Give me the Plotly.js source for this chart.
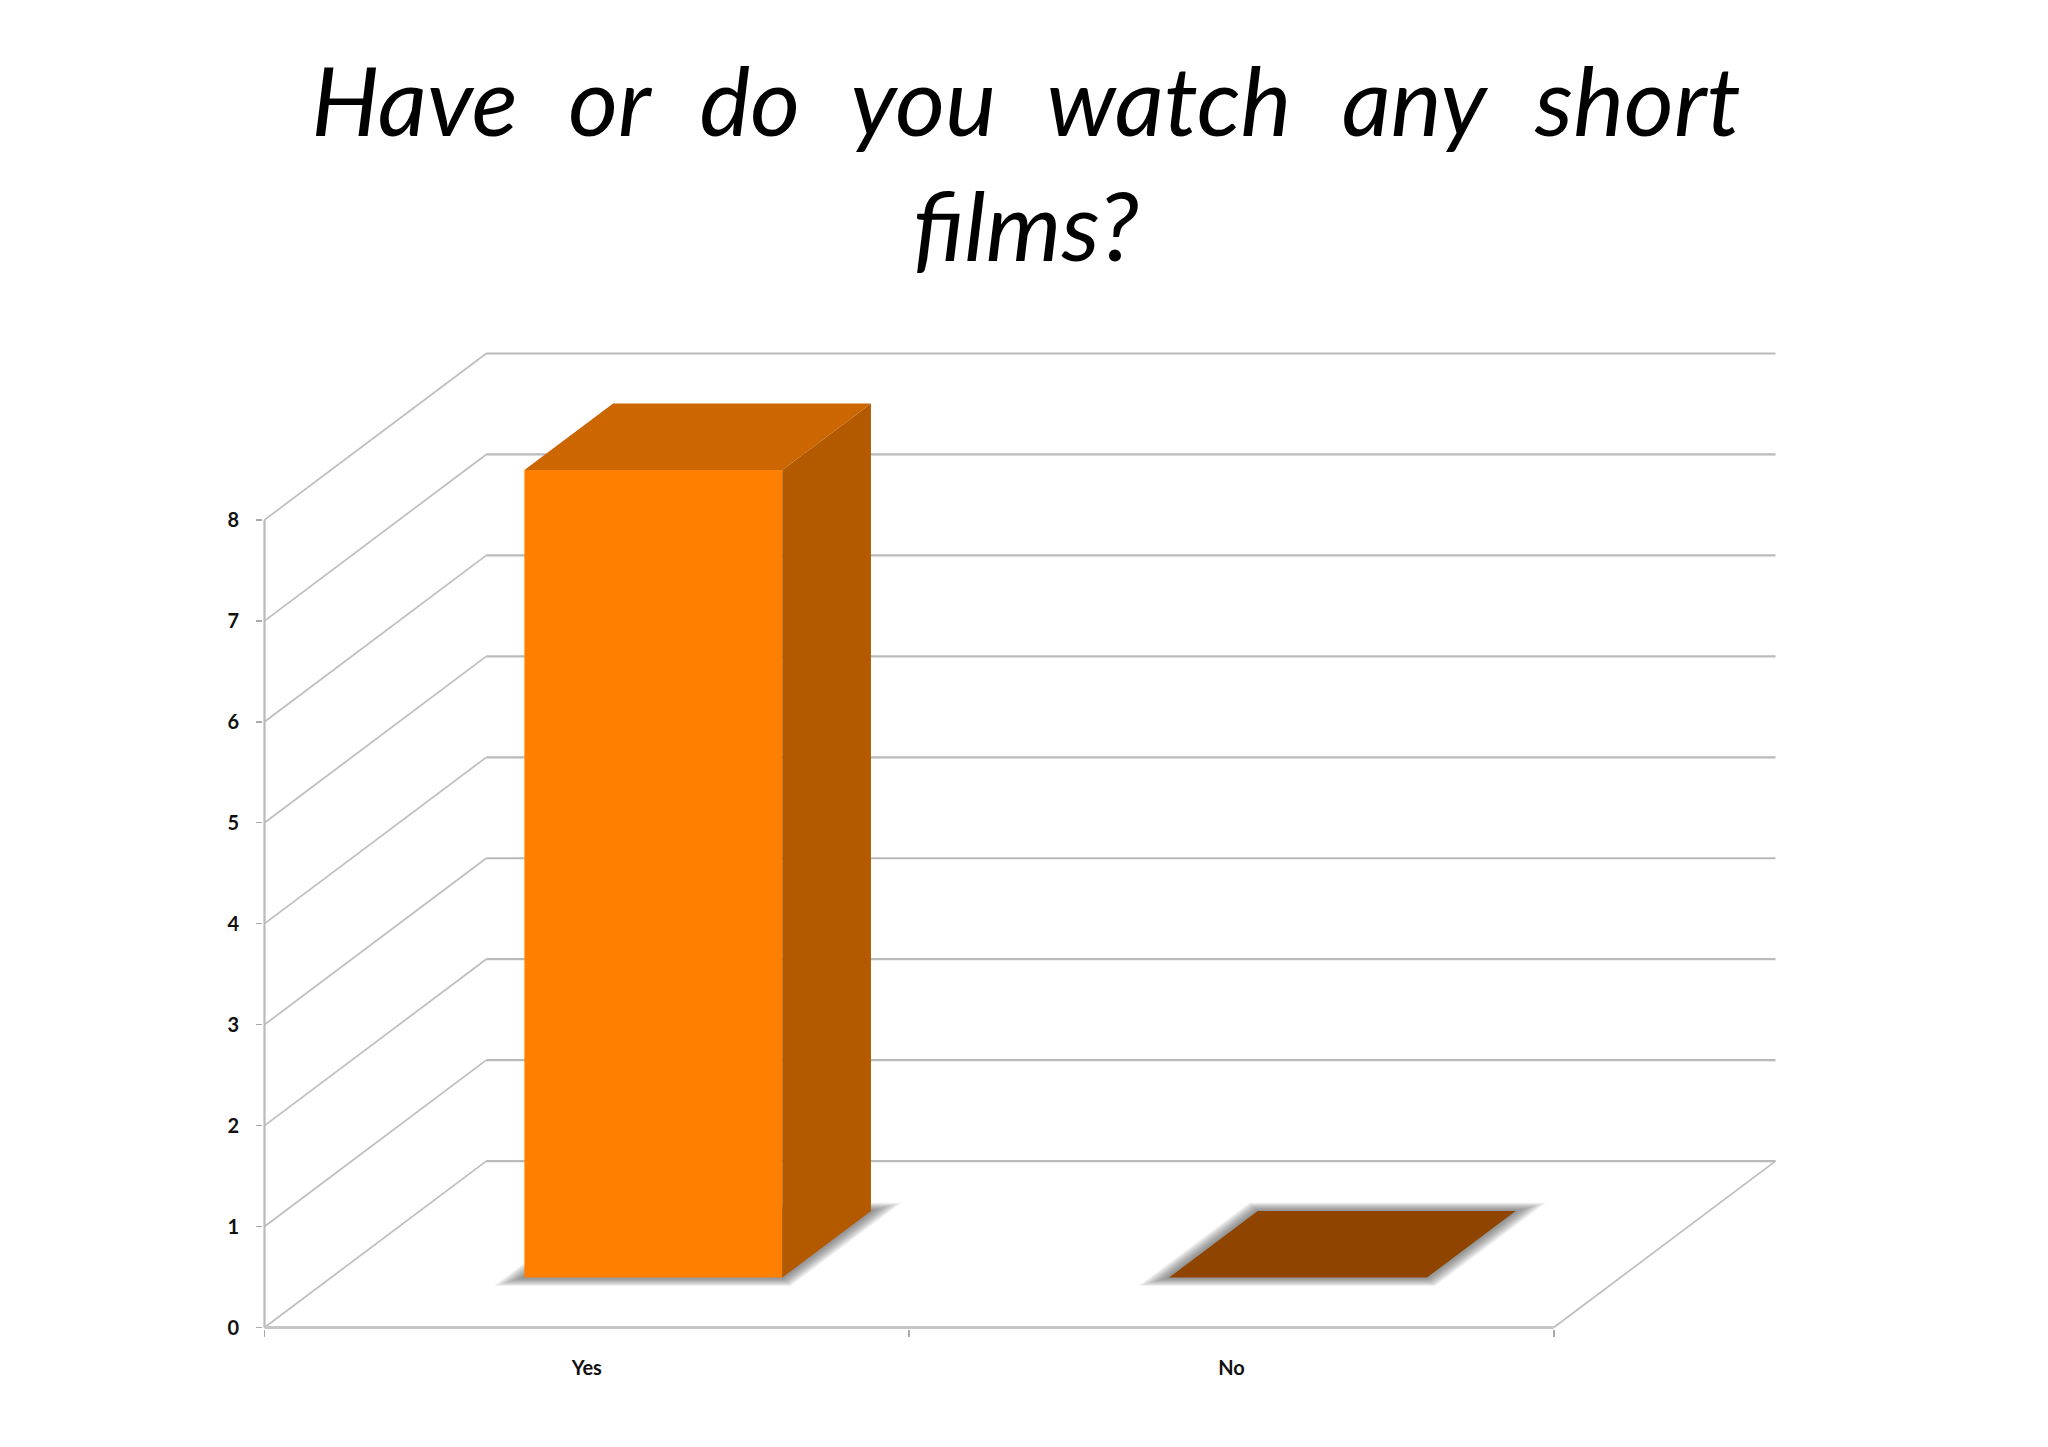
<!DOCTYPE html>
<html>
<head>
<meta charset="utf-8">
<script src="https://cdn.plot.ly/plotly-3.0.1.min.js"></script>
<style>html,body{margin:0;padding:0;background:#fff}</style>
</head>
<body>
<div id="chart" style="width:2048px;height:1447px"></div>
<script>
const categories = ['Yes', 'No'];
const values = [8, 0];
const valueTicks = [0, 1, 2, 3, 4, 5, 6, 7, 8];
const categoryEdges = [0, 1, 2];
const categoryCentres = [0.5, 1.5];
const gap = '\u00A0\u00A0\u200A';
const titleLines = ['Have', 'or', 'do', 'you', 'watch', 'any', 'short'].join(gap) + '<br>films?';
const frontColors = ['#FF8000', '#FF8000'];
const sideColors = ['#B35A00', '#B35A00'];
const topColors = ['#CC6600', '#8F4400'];

// oblique projection of the pseudo-3D chart
const depthX = 0.344, depthY = 1.648;
const barHalf = 0.2, depthNear = 0.3, depthFar = 0.7;
const unitX = 644.7, unitY = 101.05, originX = 264.4, originY = 1328;
const padX = 1.5, padY = 1.5;
const px = (c, d) => c + d * depthX;
const py = (v, d) => v + d * depthY;

const shapes = [];
const gridStyle = { color: '#BABABA', width: 2.2 };
const diagStyle = { color: '#BEBEBE', width: 1.7 };
function seg(x0, y0, x1, y1, line) {
  shapes.push({ type: 'line', layer: 'below', xref: 'x', yref: 'y', x0, y0, x1, y1, line });
}
valueTicks.forEach(v => {
  seg(px(0, 0), py(v, 0), px(0, 1), py(v, 1), diagStyle);
  seg(px(0, 1), py(v, 1), px(2, 1), py(v, 1), gridStyle);
});
seg(px(2, 0), py(0, 0), px(2, 1), py(0, 1), diagStyle);
seg(0, 0, 0, 8, gridStyle);
seg(0, 0, 2, 0, { color: '#C6C6C6', width: 2.8 });

function poly(pts) {
  return 'M' + pts.map(p => p[0] + ',' + p[1]).join('L') + 'Z';
}
// soft contact shadow of each bar, stacked translucent footprints
const spreads = [1, 0.9, 0.8, 0.7, 0.6, 0.5, 0.4, 0.3, 0.2, 0.1];
categoryCentres.forEach(cc => {
  spreads.forEach(s => {
    const e = 0.03 * s, f = 0.05 * s;
    const c0 = cc - barHalf - e, c1 = cc + barHalf + e, d0 = depthNear - f, d1 = depthFar + f;
    shapes.push({
      type: 'path', layer: 'below', xref: 'x', yref: 'y', line: { width: 0 },
      fillcolor: 'rgba(90,90,90,0.09)',
      path: poly([[px(c0, d0), py(0, d0)], [px(c1, d0), py(0, d0)], [px(c1, d1), py(0, d1)], [px(c0, d1), py(0, d1)]])
    });
  });
});

const traces = [];
traces.push({
  type: 'bar', x: categoryCentres.map(c => px(c, depthNear)), y: values,
  base: values.map(() => py(0, depthNear)), width: barHalf * 2,
  marker: { color: frontColors, line: { width: 0 } }, hoverinfo: 'skip', showlegend: false
});
categories.forEach((name, i) => {
  const c0 = categoryCentres[i] - barHalf, c1 = categoryCentres[i] + barHalf, v = values[i];
  traces.push({
    type: 'scatter', mode: 'lines', name: name + ' side', fill: 'toself', fillcolor: sideColors[i],
    line: { width: 0 }, hoverinfo: 'skip', showlegend: false,
    x: [px(c1, depthNear), px(c1, depthFar), px(c1, depthFar), px(c1, depthNear), px(c1, depthNear)],
    y: [py(0, depthNear), py(0, depthFar), py(v, depthFar), py(v, depthNear), py(0, depthNear)]
  });
  traces.push({
    type: 'scatter', mode: 'lines', name: name + ' top', fill: 'toself', fillcolor: topColors[i],
    line: { width: 0 }, hoverinfo: 'skip', showlegend: false,
    x: [px(c0, depthNear), px(c1, depthNear), px(c1, depthFar), px(c0, depthFar), px(c0, depthNear)],
    y: [py(v, depthNear), py(v, depthNear), py(v, depthFar), py(v, depthFar), py(v, depthNear)]
  });
});

const xMax = 2 + depthX, yMax = 8 + depthY;
const layout = {
  width: 2048, height: 1447, showlegend: false,
  paper_bgcolor: '#fff', plot_bgcolor: 'rgba(0,0,0,0)',
  font: { family: 'Lato, sans-serif', color: '#000' },
  margin: {
    l: originX - padX, b: 1447 - originY - padY,
    r: 2048 - (originX + xMax * unitX + padX),
    t: originY - yMax * unitY - padY, pad: 0
  },
  title: {
    text: titleLines,
    x: 1026 / 2048, xanchor: 'center', y: 0.906, yanchor: 'top', yref: 'container',
    font: { family: 'Lato', style: 'italic', size: 96, color: '#000' }
  },
  xaxis: {
    range: [-padX / unitX, xMax + padX / unitX], fixedrange: true,
    showgrid: false, zeroline: false, showline: false,
    tickmode: 'array', tickvals: categoryCentres, ticktext: categories,
    ticks: '', ticklabelstandoff: 25, tickfont: { family: 'Lato', size: 20, weight: 700, color: '#111' },
    minor: { tickmode: 'array', tickvals: categoryEdges, ticks: 'outside', ticklen: 7, tickwidth: 1.5, tickcolor: '#AAAAAA', showgrid: false }
  },
  yaxis: {
    range: [-padY / unitY, yMax + padY / unitY], fixedrange: true,
    showgrid: false, zeroline: false, showline: false,
    tickmode: 'array', tickvals: valueTicks, ticktext: valueTicks.map(String),
    ticks: 'outside', ticklen: 6, tickwidth: 1.5, tickcolor: '#AAAAAA',
    ticklabelstandoff: 13, tickfont: { family: 'Lato', size: 20, weight: 700, color: '#111' }
  },
  shapes
};
Plotly.newPlot('chart', traces, layout, { displayModeBar: false, staticPlot: true });
</script>
</body>
</html>
